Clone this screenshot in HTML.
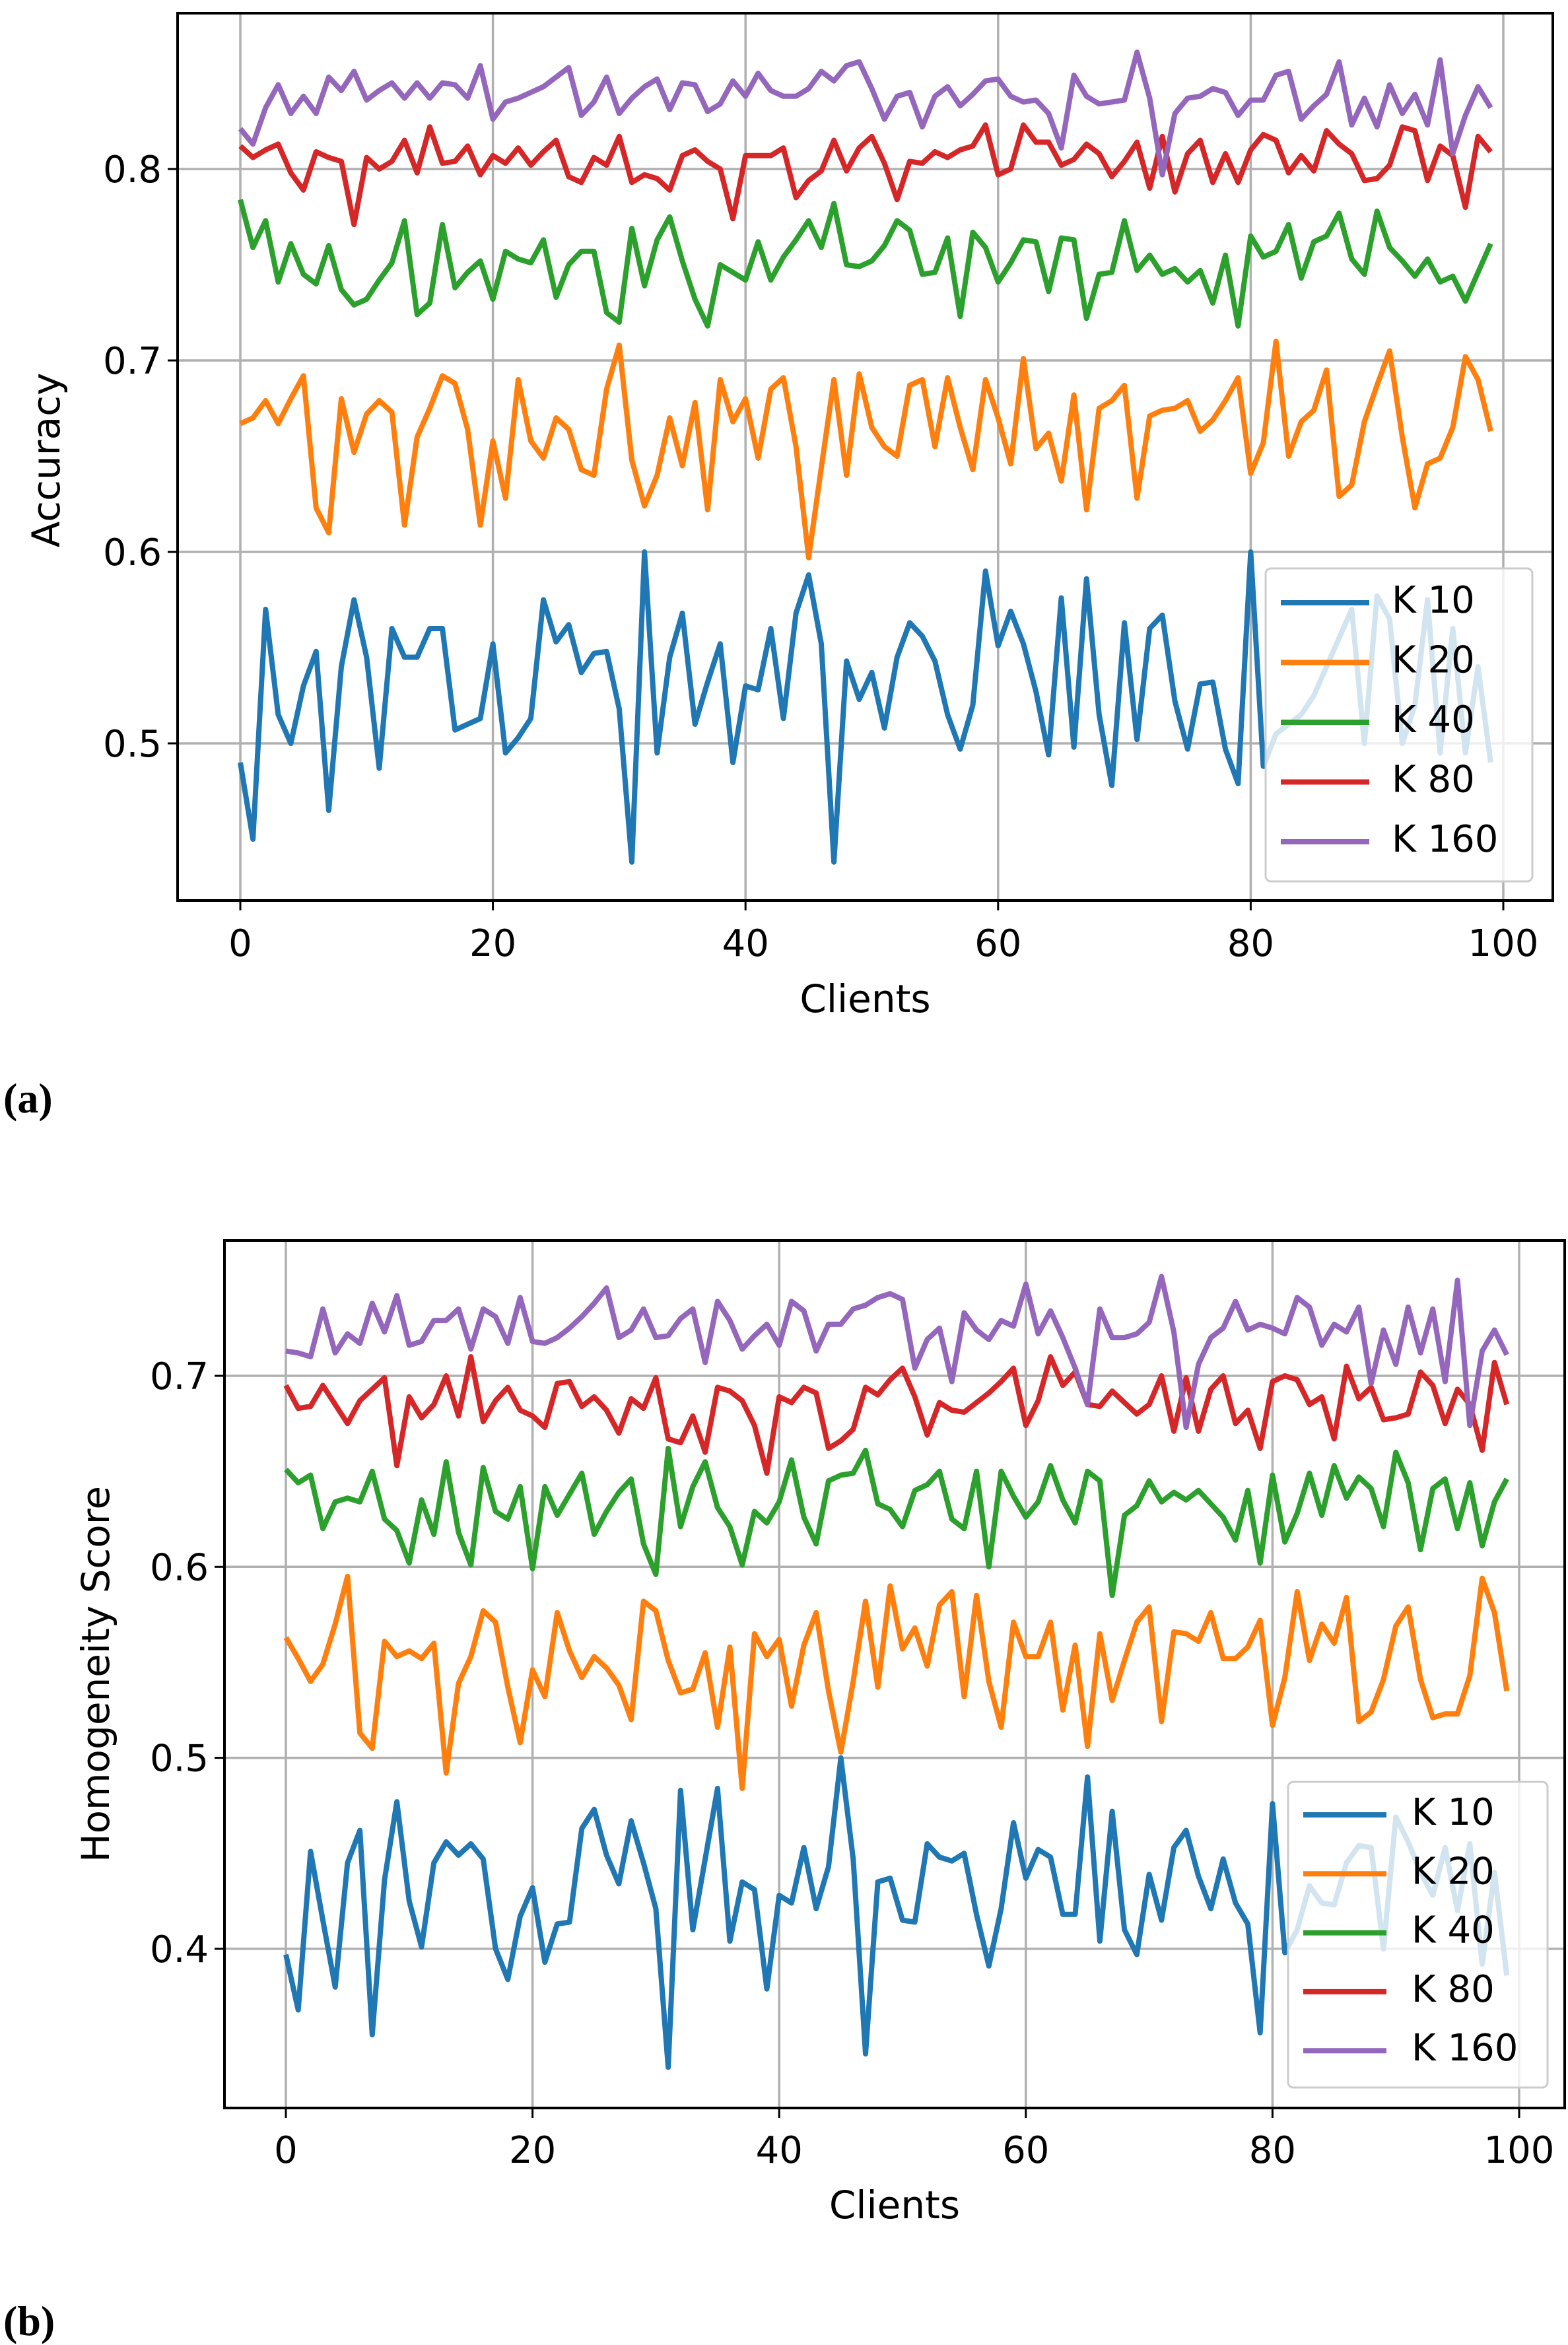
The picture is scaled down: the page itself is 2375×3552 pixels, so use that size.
<!DOCTYPE html>
<html><head><meta charset="utf-8">
<style>html,body{margin:0;padding:0;background:#fff}svg{display:block}</style>
</head><body>
<svg id="s" width="2375" height="3552" xmlns="http://www.w3.org/2000/svg" font-family="DejaVu Sans, sans-serif"></svg>
<script>
const A=[
[.49,.45,.57,.515,.50,.53,.548,.465,.54,.575,.545,.487,.56,.545,.545,.56,.56,.507,.51,.513,.552,.495,.503,.513,.575,.553,.562,.537,.547,.548,.518,.438,.60,.495,.545,.568,.51,.532,.552,.49,.53,.528,.56,.513,.568,.588,.552,.438,.543,.523,.537,.508,.545,.563,.556,.543,.515,.497,.52,.59,.551,.569,.552,.527,.494,.576,.498,.586,.515,.478,.563,.502,.56,.567,.522,.497,.531,.532,.497,.479,.60,.488,.505,.51,.515,.525,.54,.555,.57,.50,.577,.565,.50,.52,.575,.495,.56,.495,.54,.49],
[.667,.67,.679,.667,.68,.692,.623,.61,.68,.652,.672,.679,.673,.614,.66,.675,.692,.688,.664,.614,.658,.628,.69,.658,.649,.67,.664,.643,.64,.685,.708,.648,.624,.64,.67,.645,.678,.622,.69,.668,.68,.649,.685,.691,.655,.597,.644,.69,.64,.693,.665,.655,.65,.687,.69,.655,.691,.665,.643,.69,.67,.646,.701,.654,.662,.637,.682,.622,.675,.679,.687,.628,.671,.674,.675,.679,.663,.669,.679,.691,.641,.657,.71,.65,.668,.674,.695,.629,.635,.668,.687,.705,.66,.623,.646,.649,.665,.702,.69,.663],
[.784,.759,.773,.741,.761,.745,.74,.76,.737,.729,.732,.742,.751,.773,.724,.73,.771,.738,.746,.752,.732,.757,.753,.751,.763,.733,.75,.757,.757,.725,.72,.769,.739,.763,.775,.752,.732,.718,.75,.746,.742,.762,.742,.754,.763,.773,.759,.782,.75,.749,.752,.76,.773,.768,.745,.746,.764,.723,.767,.759,.741,.751,.763,.762,.736,.764,.763,.722,.745,.746,.773,.747,.755,.745,.748,.741,.747,.73,.755,.718,.765,.754,.757,.771,.743,.762,.765,.777,.753,.745,.778,.759,.752,.744,.753,.741,.744,.731,.746,.761],
[.812,.806,.81,.813,.798,.789,.809,.806,.804,.771,.806,.8,.804,.815,.798,.822,.803,.804,.812,.797,.807,.803,.811,.802,.809,.815,.796,.793,.806,.802,.817,.793,.797,.795,.789,.807,.81,.804,.8,.774,.807,.807,.807,.811,.785,.794,.799,.815,.799,.811,.817,.803,.784,.804,.803,.809,.806,.81,.812,.823,.797,.8,.823,.814,.814,.802,.805,.813,.808,.796,.804,.814,.79,.817,.788,.808,.815,.793,.808,.793,.81,.818,.815,.798,.807,.799,.82,.813,.808,.794,.795,.802,.822,.82,.794,.812,.807,.78,.817,.809],
[.821,.813,.832,.844,.829,.838,.829,.848,.841,.851,.836,.841,.845,.837,.845,.837,.845,.844,.837,.854,.826,.835,.837,.84,.843,.848,.853,.828,.835,.848,.829,.837,.843,.847,.831,.845,.844,.83,.834,.846,.838,.85,.841,.838,.838,.842,.851,.846,.854,.856,.842,.826,.838,.84,.822,.838,.843,.833,.839,.846,.847,.838,.835,.836,.829,.811,.849,.838,.834,.835,.836,.861,.837,.797,.829,.837,.838,.842,.84,.828,.836,.836,.849,.851,.826,.833,.839,.856,.823,.837,.822,.844,.829,.839,.823,.857,.808,.828,.843,.832]];
const B=[
[.397,.368,.451,.415,.38,.445,.462,.355,.436,.477,.425,.401,.445,.456,.449,.455,.447,.4,.384,.417,.432,.393,.413,.414,.463,.473,.449,.434,.467,.445,.421,.338,.483,.41,.447,.484,.404,.435,.431,.379,.428,.424,.453,.421,.443,.5,.447,.345,.435,.437,.415,.414,.455,.448,.446,.45,.418,.391,.421,.466,.437,.452,.448,.418,.418,.49,.404,.472,.41,.397,.439,.415,.453,.462,.438,.421,.447,.424,.413,.356,.476,.398,.41,.433,.424,.423,.445,.454,.453,.4,.469,.456,.44,.428,.453,.42,.455,.392,.44,.386],
[.563,.552,.54,.549,.57,.595,.513,.505,.561,.553,.556,.552,.56,.492,.539,.553,.577,.571,.537,.508,.546,.532,.576,.556,.542,.553,.547,.538,.52,.582,.577,.551,.534,.536,.555,.516,.558,.484,.565,.553,.562,.527,.559,.576,.535,.503,.54,.582,.537,.59,.557,.568,.548,.58,.587,.532,.585,.54,.516,.571,.553,.553,.571,.525,.559,.506,.565,.53,.551,.571,.579,.519,.566,.565,.561,.576,.552,.552,.558,.572,.517,.542,.587,.551,.57,.56,.584,.519,.524,.541,.569,.579,.541,.521,.523,.523,.543,.594,.576,.535],
[.651,.644,.648,.62,.634,.636,.634,.65,.625,.619,.602,.635,.617,.655,.618,.601,.652,.629,.625,.642,.599,.642,.627,.638,.649,.617,.629,.639,.646,.612,.596,.662,.621,.642,.655,.631,.621,.601,.629,.623,.634,.656,.626,.612,.645,.648,.649,.661,.633,.63,.621,.64,.643,.65,.625,.62,.65,.6,.65,.637,.626,.634,.653,.635,.623,.65,.645,.585,.627,.632,.645,.634,.639,.635,.64,.633,.626,.614,.64,.602,.648,.613,.628,.649,.627,.653,.636,.647,.641,.621,.66,.644,.609,.641,.646,.62,.644,.611,.634,.646],
[.695,.683,.684,.695,.685,.675,.687,.693,.699,.653,.689,.678,.685,.7,.679,.71,.676,.687,.694,.682,.679,.673,.696,.697,.684,.689,.682,.67,.688,.683,.699,.667,.665,.679,.66,.694,.692,.687,.674,.649,.689,.686,.694,.691,.662,.666,.672,.694,.69,.698,.704,.689,.669,.686,.682,.681,.686,.691,.697,.704,.674,.687,.71,.695,.702,.685,.684,.692,.686,.68,.685,.7,.671,.699,.671,.693,.7,.675,.682,.662,.697,.7,.698,.685,.689,.667,.705,.688,.694,.677,.678,.68,.702,.695,.675,.693,.685,.661,.707,.685],
[.713,.712,.71,.735,.712,.722,.717,.738,.723,.742,.716,.718,.729,.729,.735,.714,.735,.731,.717,.741,.718,.717,.72,.725,.731,.738,.746,.72,.724,.735,.72,.721,.73,.735,.707,.739,.729,.714,.721,.727,.716,.739,.734,.713,.727,.727,.735,.737,.741,.743,.74,.704,.719,.725,.697,.733,.724,.719,.729,.726,.748,.722,.734,.72,.704,.685,.735,.72,.72,.722,.728,.752,.723,.673,.706,.72,.725,.739,.724,.727,.725,.722,.741,.736,.716,.727,.723,.736,.696,.724,.706,.736,.712,.735,.697,.75,.674,.713,.724,.711]];
const C=['#1f77b4','#ff7f0e','#2ca02c','#d62728','#9467bd'];
const N=['K 10','K 20','K 40','K 80','K 160'];
let h='';
function chart(o){
  const X=i=>o.x0+i*o.dx, Y=v=>o.yr+(o.vr-v)*o.dy;
  for(let k=0;k<=100;k+=20){const x=X(k);h+=`<line x1="${x}" y1="${o.t}" x2="${x}" y2="${o.b}" stroke="#b0b0b0" stroke-width="3.5"/>`;
    h+=`<line x1="${x}" y1="${o.b}" x2="${x}" y2="${o.b+15}" stroke="#000" stroke-width="3"/>`;
    h+=`<text x="${x}" y="${o.tl}" font-size="56" text-anchor="middle">${k}</text>`;}
  o.yt.forEach(v=>{const y=Y(v);h+=`<line x1="${o.l}" y1="${y}" x2="${o.r}" y2="${y}" stroke="#b0b0b0" stroke-width="3.5"/>`;
    h+=`<line x1="${o.l-15}" y1="${y}" x2="${o.l}" y2="${y}" stroke="#000" stroke-width="3"/>`;
    h+=`<text x="${o.l-24}" y="${y+20}" font-size="56" text-anchor="end">${v.toFixed(1)}</text>`;});
  o.d.forEach((s,j)=>{h+=`<polyline fill="none" stroke="${C[j]}" stroke-width="8" stroke-linejoin="round" points="${s.map((v,i)=>X(i).toFixed(1)+','+Y(v).toFixed(1)).join(' ')}"/>`;});
  h+=`<rect x="${o.l}" y="${o.t}" width="${o.r-o.l}" height="${o.b-o.t}" fill="none" stroke="#000" stroke-width="4"/>`;
  const L=o.leg;
  h+=`<rect x="${L.x}" y="${L.y}" width="${L.w}" height="${L.h}" rx="8" fill="#fff" fill-opacity="0.8" stroke="#ccc" stroke-width="3"/>`;
  N.forEach((n,j)=>{const y=L.r0+j*L.rs;h+=`<line x1="${L.lx}" y1="${y}" x2="${L.lx+L.lw}" y2="${y}" stroke="${C[j]}" stroke-width="8"/>`;
    h+=`<text x="${L.tx}" y="${y+15}" font-size="56">${n}</text>`;});
  h+=`<text x="${(o.l+o.r)/2}" y="${o.xl}" font-size="58" text-anchor="middle">Clients</text>`;
  h+=`<text transform="translate(${o.yx},${o.yc}) rotate(-90)" font-size="58" text-anchor="middle">${o.yl}</text>`;
  h+=`<text x="5" y="${o.lab}" font-size="64" font-weight="bold" font-family="Liberation Serif, serif">${o.lt}</text>`;
}
chart({l:269,r:2352,t:20,b:1364,x0:364,dx:19.13,yr:256,vr:0.8,dy:2900,yt:[0.5,0.6,0.7,0.8],tl:1448,xl:1533,yx:90,yc:697,yl:'Accuracy',lab:1685,lt:'(a)',d:A,
  leg:{x:1917,y:861,w:404,h:474,r0:913,rs:90.5,lx:1940,lw:134,tx:2108}});
chart({l:340,r:2370,t:1879,b:3193,x0:433,dx:18.68,yr:2084,vr:0.7,dy:2893,yt:[0.4,0.5,0.6,0.7],tl:3276,xl:3360,yx:165,yc:2536,yl:'Homogeneity Score',lab:3537,lt:'(b)',d:B,
  leg:{x:1951,y:2699,w:393,h:463,r0:2749,rs:89.3,lx:1974,lw:126,tx:2138}});
document.getElementById('s').innerHTML=h;
</script>
</body></html>
